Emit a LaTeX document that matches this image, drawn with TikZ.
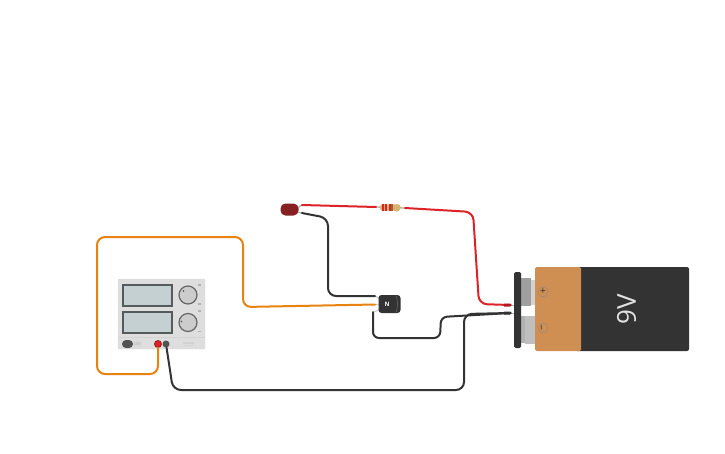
\documentclass[tikz,border=0pt]{standalone}
\usepackage{fontspec}
\setmainfont{Open Sans}
\definecolor{wireblack}{HTML}{333333}
\definecolor{wirered}{HTML}{DD2228}
\definecolor{wireorange}{HTML}{E8830F}
\definecolor{batorange}{HTML}{CF8E52}
\definecolor{panel}{HTML}{DEDEDE}
\definecolor{lcd}{HTML}{C5D0D2}
\definecolor{lcdedge}{HTML}{555B5B}
\definecolor{ledred}{HTML}{862022}
\definecolor{resbody}{HTML}{D8B56F}
\tikzset{
  wire/.style={line width=2pt,rounded corners=8pt,line cap=round},
  wblk/.style={wire,draw=wireblack},
  wred/.style={wire,draw=wirered},
  worg/.style={wire,draw=wireorange},
  lead/.style={draw=gray!60,line width=1.3pt},
  display/.style={draw=lcdedge,line width=2pt,fill=lcd,minimum width=49pt,minimum height=21pt,inner sep=0pt},
  knob/.style={circle,draw=black!60,line width=1.2pt,fill=gray!40,minimum size=18pt,inner sep=0pt},
  term/.style={circle,minimum size=7pt,inner sep=0pt},
  polarity/.style={circle,draw=black!45,line width=.4pt,minimum size=10pt,inner sep=0pt,text=black!80,font=\fontsize{10}{10}\selectfont},
  tiny/.style={text=gray!70,font=\fontsize{3.4}{4}\selectfont,inner sep=0pt},
  speck/.style={fill=gray!60,inner sep=0pt,minimum width=3.5pt,minimum height=1.2pt},
  band/.style={fill=wirered,inner sep=0pt,minimum width=2pt,minimum height=7.5pt},
}
\begin{document}
\begin{tikzpicture}[x=1pt,y=-1pt]
\useasboundingbox (0,0) rectangle (725,453);
% power supply
\node[fill=panel,draw=gray!30,line width=.4pt,rounded corners=1pt,minimum width=87pt,minimum height=70pt,inner sep=0pt] (supply) at (161.5,314) {};
\draw[gray!35,line width=.4pt] (118.5,337) -- (205,337);
\node[display] (d1) at (147.5,295.5) {};
\node[display] (d2) at (147.5,322) {};
\node[knob] (k1) at (188,295) {};
\node[knob] (k2) at (188,322.5) {};
\fill[black!70] (183.5,291) circle (.8pt) (181.5,321.5) circle (.8pt);
\node[speck] (t1) at (199.5,285) {};
\node[speck] (t2) at (199.5,304) {};
\node[speck] (t3) at (199.5,311) {};
\node[speck] (t4) at (199.5,331.5) {};
\node[fill=gray!30,rounded corners=3pt,minimum width=14pt,minimum height=7pt,inner sep=0pt] (pill) at (135,344) {};
\node[fill=wireblack!85,rounded corners=4pt,minimum width=11pt,minimum height=8pt,inner sep=0pt] (sw) at (127.5,344) {};
\node[tiny] (off) at (137.5,344) {OFF};
\node[speck,fill=gray!35,minimum width=11pt] (s1) at (188,343) {};
\node[speck,fill=gray!35,minimum width=9pt] (s2) at (188,345.5) {};
\node[term,fill=wirered,draw=wirered!70!black,line width=.8pt] (plus) at (158,344) {};
\node[term,fill=wireblack!85] (minus) at (166,344) {};
% LED
\coordinate (ledA) at (302,205);
\coordinate (ledK) at (302,213);
\draw[lead] (296,209) -- (ledA);
\draw[lead] (296,212) -- (ledK);
\node[fill=ledred,rounded corners=5pt,minimum width=18pt,minimum height=12pt,inner sep=0pt] (led) at (289.5,209.5) {};
% resistor
\coordinate (resL) at (376,207);
\coordinate (resR) at (405,208);
\draw[lead] (resL) -- (resR);
\node[fill=resbody,rounded corners=2.5pt,minimum width=20pt,minimum height=6pt,inner sep=0pt,rotate=2] (res) at (390.5,207.5) {};
\fill[resbody] (383.5,207.5) circle (3.7pt);
\fill[resbody] (396.5,208) circle (3.7pt);
\node[band] (b1) at (382.5,207.3) {};
\node[band] (b2) at (386,207.5) {};
\node[band] (b3) at (389.5,207.6) {};
\node[band,fill=brown!80!black,minimum width=1.4pt] (b4) at (392,207.7) {};
% transistor
\coordinate (tC) at (375,296);
\coordinate (tB) at (375,304.5);
\coordinate (tE) at (373,312);
\draw[gray!40,line width=1.2pt] (tC) -- (382,300) (tB) -- (382,304.5) (tE) -- (382,309);
\node[fill=wireblack,rounded corners=3pt,minimum width=22pt,minimum height=18pt,inner sep=0pt] (trans) at (389.5,304) {};
\draw[black!60,line width=.6pt] (396,295.5) .. controls (398,300) and (398,308) .. (396,312.5);
\node[text=white,font=\bfseries\fontsize{6}{6}\selectfont,inner sep=0pt] (n) at (387,304) {N};
% battery
\node[fill=gray!75,minimum width=10pt,minimum height=28pt,inner sep=0pt] (bp) at (526,292) {};
\node[fill=gray!35,minimum width=4pt,minimum height=25pt,inner sep=0pt] (bp2) at (533,292.5) {};
\node[fill=gray!60,minimum width=4pt,minimum height=27pt,inner sep=0pt] (bm) at (523,329) {};
\node[fill=gray!50,minimum width=11pt,minimum height=28pt,inner sep=0pt] (bm2) at (530,329.5) {};
\node[fill=wireblack,rounded corners=1.5pt,minimum width=7pt,minimum height=76pt,inner sep=0pt] (clip) at (517.5,310) {};
\fill[wireblack,rounded corners=2pt] (575,267) rectangle (689,351);
\fill[batorange,rounded corners=1.5pt] (535,267) rectangle (581,351);
\node[polarity] (mp) at (543,292) {+};
\node[polarity,rotate=90] (mm) at (543,328) {−};
\node[rotate=90,text=gray!22,font=\fontsize{26}{26}\selectfont,inner sep=0pt] (nine) at (626.5,309.5) {9V};
\coordinate (cR) at (510,305);
\coordinate (cB) at (510,313);
\draw[lead,line width=1pt] (503,305) -- (514,305) (503,313) -- (514,313);
% wires
\draw[wred] (ledA) -- (resL);
\draw[wred] (resR) -- (473,212) -- (479,304) -- (cR);
\draw[worg] (plus) -- (158,374) -- (97,374) -- (97,237) -- (243,237) -- (243,307) -- (tB);
\draw[wblk] (minus) -- (173,390) -- (464,390) -- (464,314) -- (cB);
\draw[wblk] (ledK) -- (328,218) -- (328,296) -- (tC);
\draw[wblk,rounded corners=6pt] (tE) -- (373,338) -- (440,338) -- (441,317) -- (cB);
\fill[wirered!80!black] (504,303.5) -- (510,303.5) -- (512,305) -- (510,306.5) -- (504,306.5) -- cycle;
\fill[wireblack] (504,311.5) -- (510,311.5) -- (512,313) -- (510,314.5) -- (504,314.5) -- cycle;
\end{tikzpicture}
\end{document}
